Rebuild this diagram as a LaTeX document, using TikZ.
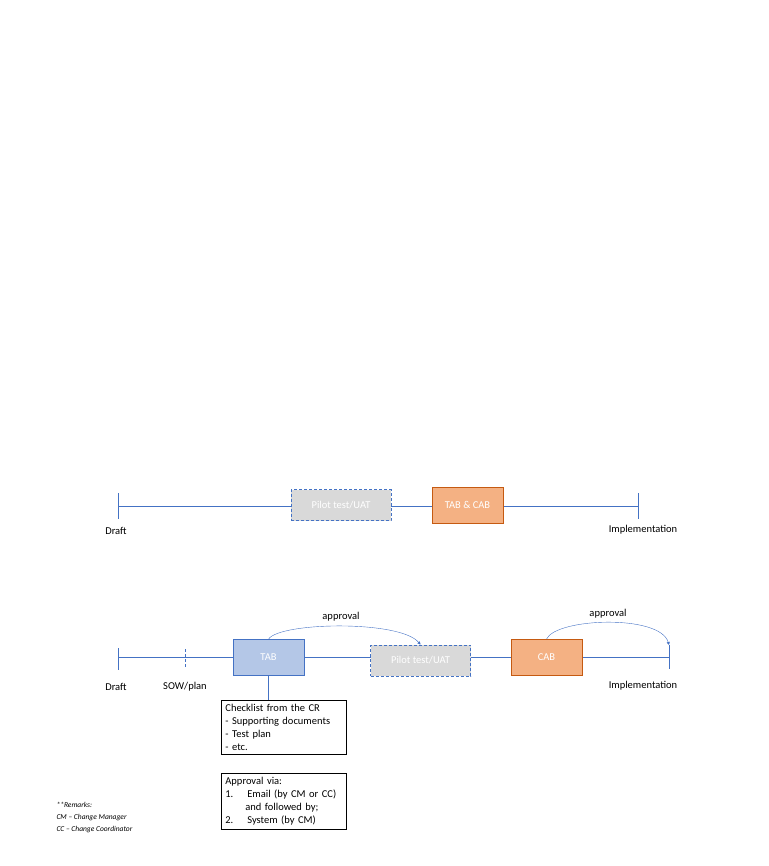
\documentclass[tikz,border=0pt]{standalone}
\usepackage{fontspec}
\setmainfont{Carlito}
\usetikzlibrary{positioning, arrows.meta}
\definecolor{line_blue}{RGB}{68,114,196}
\definecolor{tab_blue}{RGB}{180,199,231}
\definecolor{cab_orange}{RGB}{244,177,131}
\definecolor{cab_border}{RGB}{197,90,17}
\definecolor{pilot_grey}{RGB}{217,217,217}

\begin{document}
\begin{tikzpicture}[x=1pt, y=-1pt, font=\fontsize{10.5}{13}\selectfont,
	stage/.style={draw=line_blue, thick, minimum height=36pt, minimum width=71pt, text=white, inner sep=0pt},
	pilotbox/.style={draw=line_blue, thick, densely dashed, fill=pilot_grey, text=white, minimum width=100pt, minimum height=31pt, inner sep=0pt},
	notebox/.style={draw, thick, text width=117pt, align=left, inner sep=4pt},
	timeline/.style={line_blue, thick}]
			\useasboundingbox (0,0) rectangle (768,866);
			% --- Begin Top Timeline ---
			\coordinate (top_start) at (118,506);
			\coordinate (top_end) at (638,506);
			\draw [timeline] (top_start) -- (top_end);
			\draw [timeline] (118,493) -- (118,519);
			\draw [timeline] (638,493) -- (638,519);
			\node [pilotbox] (top_pilot) at (341,505) {Pilot test/UAT};
			\node [stage, fill=cab_orange, draw=cab_border] (top_tabcab) at (467.5,505) {TAB \& CAB};
			\node (top_draft) at (116,531) {Draft};
			\node (top_impl) at (643,530) {Implementation};
			% --- End Top Timeline ---

			% --- Begin Bottom Timeline ---
			\coordinate (bot_start) at (118,657);
			\coordinate (bot_end) at (669,657);
			\draw [timeline] (bot_start) -- (bot_end);
			\draw [timeline] (118,648) -- (118,670);
			\draw [timeline, densely dashed, thin] (185,649) -- (185,667);
			\draw [timeline] (669,645) -- (669,669);
			\node [stage, fill=tab_blue] (TAB) at (268.5,657.5) {TAB};
			\node [pilotbox] (bot_pilot) at (420.5,660.5) {Pilot test/UAT};
			\node [stage, fill=cab_orange, draw=cab_border] (CAB) at (546.5,657.5) {CAB};
			\node (bot_draft) at (116,687) {Draft};
			\node (bot_sow) at (185,687) {SOW/plan};
			\node (bot_impl) at (643,686) {Implementation};

			% approval arrows
			\coordinate (impl_top) at (669,645);
			\draw [line_blue, -{Triangle[length=3pt,width=3pt]}] (TAB.north) .. controls (280,622) and (400,620) .. (bot_pilot.north);
			\node (tab_approval) at (341,617) {approval};
			\draw [line_blue, -{Triangle[length=3pt,width=3pt]}] (CAB.north) .. controls (556,618) and (660,614) .. (impl_top);
			\node (cab_approval) at (608,614) {approval};

			% notes under TAB
			\node [notebox, anchor=north west] (checklist) at (221,700) {
				Checklist from the CR \\
				- Supporting documents \\
				- Test plan \\
				- etc.
			};
			\draw [timeline] (TAB.south) -- (checklist.north -| TAB.south);
			\node [notebox, anchor=north west] (approval_via) at (221,773) {
				Approval via: \\
				1.\hspace{14pt}Email (by CM or CC) \\
				\hspace{20pt}and followed by; \\
				2.\hspace{14pt}System (by CM)
			};
			% --- End Bottom Timeline ---

			% Remarks in the corner
			\node [anchor=north west, align=left, font=\fontsize{7.5}{12}\selectfont\itshape] (remarks) at (53,799) {
				**Remarks: \\
				CM -- Change Manager \\
				CC -- Change Coordinator
			};
		\end{tikzpicture}
\end{document}
